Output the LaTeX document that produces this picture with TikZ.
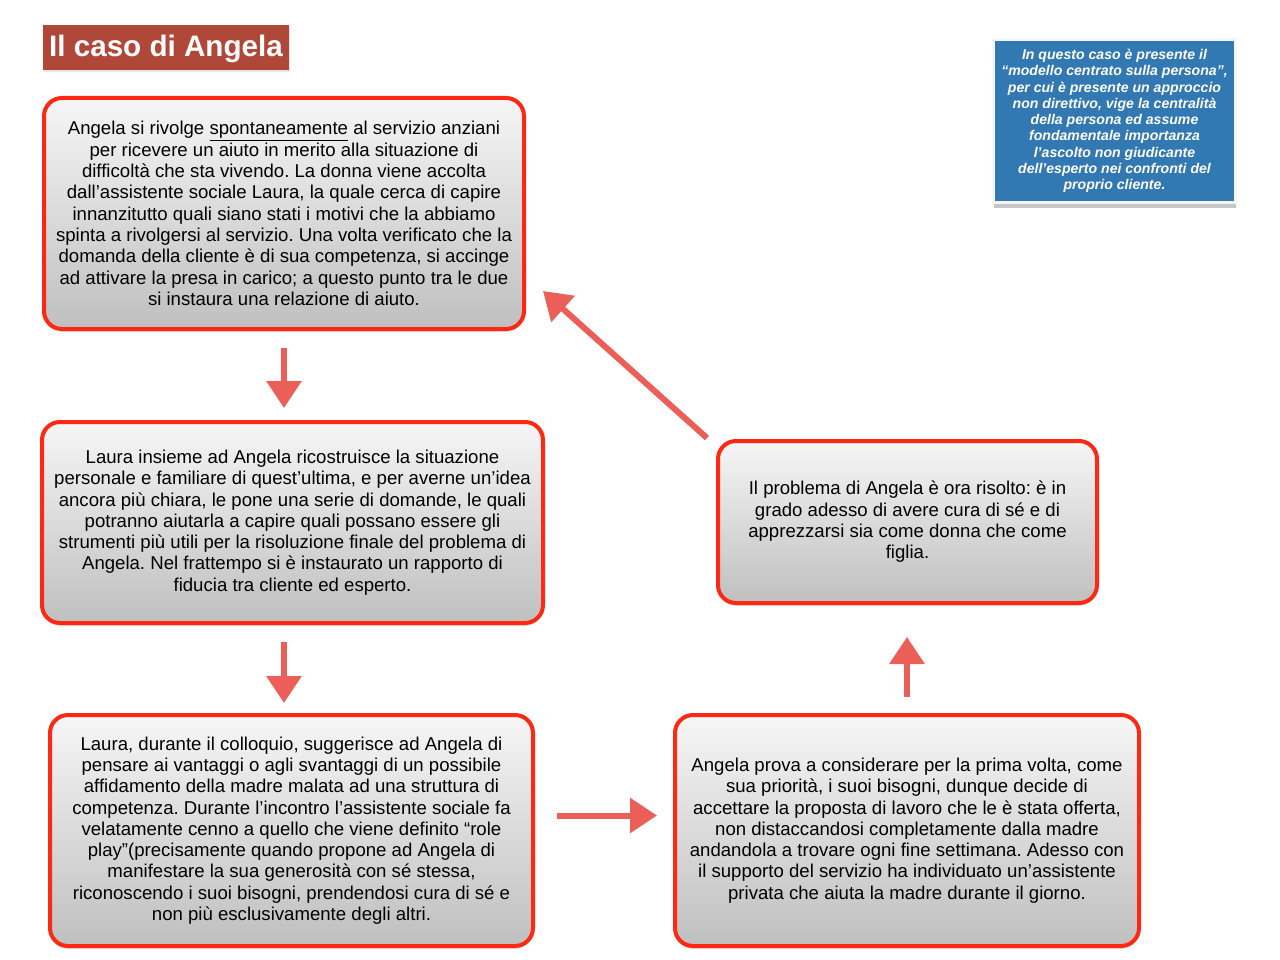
\documentclass[tikz,border=0pt]{standalone}
\usepackage{fontspec}
\setmainfont{Liberation Sans}
\usepackage{tikz}
\usetikzlibrary{arrows.meta,shadows}
\frenchspacing

\definecolor{boxred}{RGB}{255,40,18}
\definecolor{arrowred}{RGB}{236,94,88}
\definecolor{titlered}{RGB}{176,72,58}
\definecolor{noteblue}{RGB}{50,120,178}

\begin{document}
\begin{tikzpicture}[x=1pt, y=-1pt, >={Triangle[width=34pt,length=27pt]},
    step box/.style={draw=boxred, line width=4pt, rounded corners=18pt,
        top color=gray!7, bottom color=gray!50, align=center,
        font=\fontsize{18.6}{21.3}\selectfont, inner sep=0pt,
        drop shadow={opacity=0.25, shadow xshift=0pt, shadow yshift=-3pt}},
    flow/.style={->, draw=arrowred, line width=6pt}]
    % Page
    \useasboundingbox (0,0) rectangle (1280,960);

    % Title and note
    \node [fill=titlered, text=white, font=\fontsize{29.6}{34}\selectfont\bfseries,
        minimum width=246pt, minimum height=45pt, inner sep=0pt, text depth=4pt,
        drop shadow={opacity=0.2, shadow xshift=1pt, shadow yshift=-2pt}]
        (title) at (166,47.5) {Il caso di Angela};
    \node [fill=noteblue, draw=gray!55, double=gray!8, double distance=3pt,
        text=white, font=\fontsize{14.1}{16.25}\selectfont\bfseries\itshape,
        align=center, minimum width=242pt, minimum height=163pt, inner sep=0pt,
        drop shadow={opacity=0.45, shadow xshift=0pt, shadow yshift=-6pt}]
        (note) at (1114.5,121) {In questo caso è presente il\\
        “modello centrato sulla persona”,\\
        per cui è presente un approccio\\
        non direttivo, vige la centralità\\
        della persona ed assume\\
        fondamentale importanza\\
        l’ascolto non giudicante\\
        dell’esperto nei confronti del\\
        proprio cliente.};

    % Nodes {p1, p2, p3, p4, p5}
    \node [step box, minimum width=480pt, minimum height=231pt] (p1) at (284,213.5)
        {Angela si rivolge \underline{spontaneamente} al servizio anziani\\
        per ricevere un aiuto in merito alla situazione di\\
        difficoltà che sta vivendo. La donna viene accolta\\
        dall’assistente sociale Laura, la quale cerca di capire\\
        innanzitutto quali siano stati i motivi che la abbiamo\\
        spinta a rivolgersi al servizio. Una volta verificato che la\\
        domanda della cliente è di sua competenza, si accinge\\
        ad attivare la presa in carico; a questo punto tra le due\\
        si instaura una relazione di aiuto.};
    \node [step box, minimum width=501pt, minimum height=201pt] (p2) at (292.5,522.5)
        {Laura insieme ad Angela ricostruisce la situazione\\
        personale e familiare di quest’ultima, e per averne un’idea\\
        ancora più chiara, le pone una serie di domande, le quali\\
        potranno aiutarla a capire quali possano essere gli\\
        strumenti più utili per la risoluzione finale del problema di\\
        Angela. Nel frattempo si è instaurato un rapporto di\\
        fiducia tra cliente ed esperto.};
    \node [step box, minimum width=483pt, minimum height=231pt] (p3) at (291.5,830.5)
        {Laura, durante il colloquio, suggerisce ad Angela di\\
        pensare ai vantaggi o agli svantaggi di un possibile\\
        affidamento della madre malata ad una struttura di\\
        competenza. Durante l’incontro l’assistente sociale fa\\
        velatamente cenno a quello che viene definito “role\\
        play”(precisamente quando propone ad Angela di\\
        manifestare la sua generosità con sé stessa,\\
        riconoscendo i suoi bisogni, prendendosi cura di sé e\\
        non più esclusivamente degli altri.};
    \node [step box, minimum width=464pt, minimum height=231pt] (p4) at (907,830.5)
        {Angela prova a considerare per la prima volta, come\\
        sua priorità, i suoi bisogni, dunque decide di\\
        accettare la proposta di lavoro che le è stata offerta,\\
        non distaccandosi completamente dalla madre\\
        andandola a trovare ogni fine settimana. Adesso con\\
        il supporto del servizio ha individuato un’assistente\\
        privata che aiuta la madre durante il giorno.};
    \node [step box, minimum width=379pt, minimum height=162pt] (p5) at (907.5,522)
        {Il problema di Angela è ora risolto: è in\\
        grado adesso di avere cura di sé e di\\
        apprezzarsi sia come donna che come\\
        figlia.};

    % Paths
    \draw [flow, shorten <=17pt, shorten >=12pt] (p1.south) -- (p1.south |- p2.north);
    \draw [flow, shorten <=17pt, shorten >=10pt] (p1.south |- p2.south) -- (p1.south |- p3.north);
    \draw [flow, shorten <=22pt, shorten >=16pt] ([yshift=15pt]p3.east) -- ([yshift=15pt]p4.west);
    \draw [flow, shorten <=16pt, shorten >=32pt] (p4.north) -- (p4.north |- p5.south);
    \draw [flow] ([shift={(-9,-1)}]p5.north west) -- ([shift={(17,-40)}]p1.south east);

\end{tikzpicture}
\end{document}
